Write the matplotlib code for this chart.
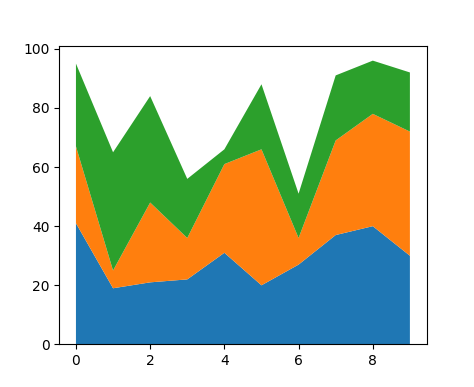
import numpy as np
import matplotlib
matplotlib.use('Agg')
import matplotlib.pyplot as plt

x = np.arange(10)
blue = [41, 19, 21, 22, 31, 20, 27, 37, 40, 30]
orange = [26, 6, 27, 14, 30, 46, 9, 32, 38, 42]
green = [28, 40, 36, 20, 5, 22, 15, 22, 18, 20]

fig, ax = plt.subplots(figsize=(4.74, 3.87), dpi=100)
ax.stackplot(x, blue, orange, green)

fig.savefig('out.png')
